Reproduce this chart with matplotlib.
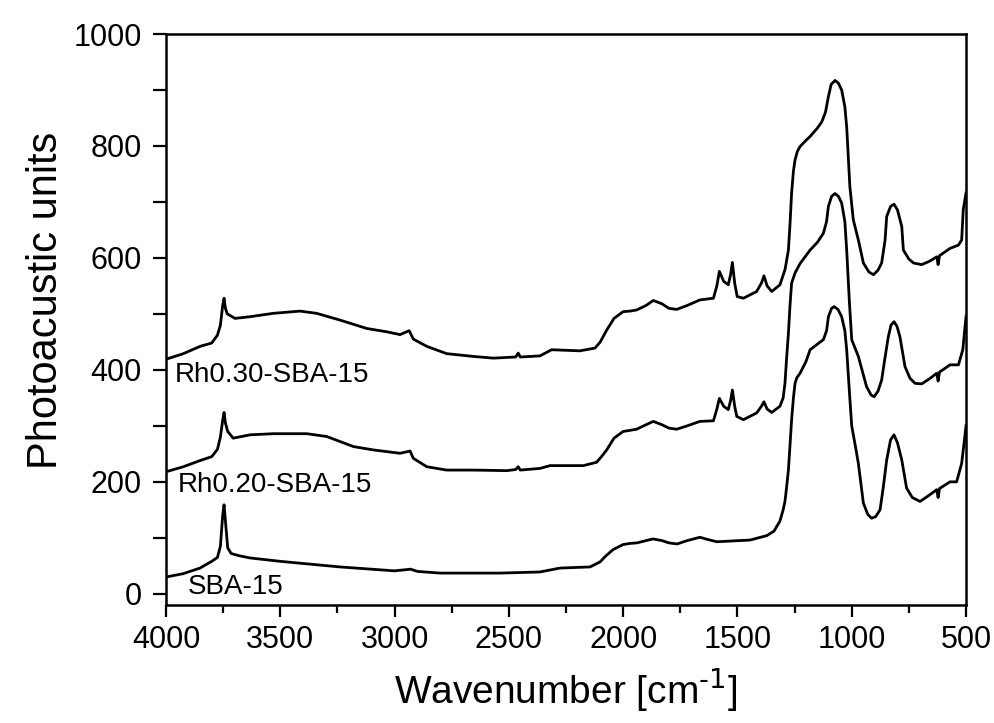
import matplotlib
matplotlib.use("Agg")
import matplotlib.pyplot as plt
from matplotlib.ticker import MultipleLocator

plt.rcParams["font.family"] = ["Liberation Sans", "DejaVu Sans"]
plt.rcParams["mathtext.default"] = "regular"

# (wavenumber, photoacoustic signal), high -> low wavenumber
sba15 = [
    (4000, 30), (3924, 36), (3851, 46), (3800, 58), (3775, 65), (3762, 85),
    (3752, 140), (3746, 159), (3740, 130), (3730, 82), (3715, 72), (3680, 68),
    (3632, 64), (3500, 58), (3239, 48), (3000, 41), (2930, 44), (2900, 40),
    (2801, 37), (2539, 37), (2364, 39), (2276, 46), (2145, 48), (2101, 57),
    (2075, 68), (2044, 79), (2000, 88), (1970, 90), (1939, 91), (1900, 95),
    (1869, 98), (1830, 95), (1800, 91), (1764, 89), (1720, 95), (1664, 101),
    (1630, 97), (1590, 93), (1445, 96), (1371, 104), (1340, 112), (1314, 130),
    (1300, 150), (1292, 165), (1285, 190), (1277, 221), (1270, 265), (1263, 311),
    (1255, 350), (1248, 376), (1240, 386), (1226, 394), (1200, 415), (1182, 436),
    (1150, 446), (1124, 454), (1110, 470), (1102, 495), (1088, 510), (1077, 513),
    (1060, 508), (1044, 495), (1030, 470), (1022, 436), (1010, 360), (1000, 300),
    (981, 257), (971, 233), (949, 162), (930, 142), (913, 135), (895, 138),
    (876, 150), (862, 190), (847, 239), (830, 275), (815, 284), (800, 270),
    (781, 239), (760, 189), (735, 172), (701, 165), (665, 175), (628, 186),
    (622, 172), (616, 188), (570, 200), (541, 200), (519, 233), (505, 281),
    (500, 300),
]

rh020 = [
    (4000, 218), (3924, 227), (3851, 238), (3800, 245), (3775, 258), (3762, 280),
    (3752, 310), (3746, 324), (3740, 305), (3730, 290), (3706, 278), (3632, 284),
    (3531, 286), (3384, 286), (3297, 281), (3180, 263), (3093, 257), (3034, 254),
    (2976, 251), (2932, 255), (2918, 242), (2859, 227), (2772, 221), (2655, 221),
    (2509, 220), (2470, 222), (2459, 227), (2450, 221), (2364, 224), (2320, 229),
    (2174, 229), (2116, 235), (2095, 245), (2072, 257), (2040, 278), (2000, 290),
    (1970, 292), (1941, 294), (1900, 302), (1868, 308), (1830, 302), (1800, 296),
    (1766, 294), (1720, 300), (1664, 308), (1605, 309), (1590, 330), (1579, 349),
    (1560, 335), (1540, 329), (1530, 345), (1522, 364), (1512, 335), (1503, 317),
    (1474, 311), (1416, 323), (1395, 335), (1384, 343), (1370, 330), (1350, 324),
    (1314, 335), (1300, 350), (1292, 376), (1285, 420), (1277, 465), (1270, 515),
    (1263, 555), (1248, 573), (1226, 590), (1182, 614), (1150, 628), (1124, 644),
    (1110, 665), (1102, 692), (1088, 710), (1073, 715), (1058, 710), (1044, 698),
    (1030, 665), (1022, 614), (1010, 520), (1000, 454), (971, 424), (935, 370),
    (915, 355), (902, 352), (885, 362), (869, 382), (855, 420), (840, 459),
    (828, 480), (815, 486), (802, 478), (789, 459), (767, 406), (745, 385),
    (723, 376), (694, 375), (660, 384), (628, 394), (622, 380), (616, 396),
    (570, 409), (533, 409), (514, 436), (500, 495),
]

rh030 = [
    (4000, 419), (3924, 429), (3851, 442), (3800, 448), (3775, 462), (3762, 480),
    (3752, 515), (3746, 528), (3740, 510), (3732, 500), (3698, 492), (3632, 495),
    (3531, 501), (3414, 505), (3341, 501), (3239, 489), (3122, 474), (3034, 468),
    (2976, 463), (2936, 470), (2918, 455), (2859, 442), (2772, 429), (2655, 424),
    (2568, 421), (2470, 423), (2459, 430), (2450, 423), (2364, 425), (2313, 436),
    (2189, 434), (2123, 439), (2100, 450), (2072, 471), (2040, 492), (2000, 504),
    (1970, 505), (1941, 507), (1900, 515), (1868, 524), (1830, 518), (1800, 510),
    (1766, 508), (1720, 515), (1664, 525), (1605, 528), (1590, 550), (1579, 576),
    (1560, 558), (1540, 552), (1530, 570), (1522, 592), (1512, 555), (1501, 531),
    (1474, 528), (1416, 540), (1395, 555), (1384, 568), (1370, 550), (1350, 540),
    (1314, 552), (1292, 579), (1285, 595), (1277, 614), (1270, 660), (1263, 716),
    (1255, 755), (1248, 775), (1238, 790), (1226, 799), (1200, 810), (1182, 817),
    (1150, 832), (1131, 843), (1115, 860), (1102, 888), (1090, 910), (1073, 917),
    (1058, 912), (1044, 900), (1030, 870), (1022, 834), (1008, 727), (993, 668),
    (971, 632), (949, 591), (925, 575), (905, 570), (885, 578), (869, 591),
    (854, 632), (847, 674), (830, 692), (815, 696), (800, 686), (781, 656),
    (774, 614), (750, 598), (730, 591), (694, 588), (660, 594), (628, 602),
    (622, 588), (616, 604), (570, 617), (533, 623), (519, 632), (512, 686),
    (500, 716),
]

labels = ["Rh0.30-SBA-15", "Rh0.20-SBA-15", "SBA-15"]
label_x = [3960, 3948, 3904]
label_y = [391, 195, 12]

fig = plt.figure(figsize=(9.95, 7.23), dpi=100)
ax = fig.add_axes([166 / 995, 118 / 723, 800 / 995, 571 / 723])

for series in [rh030, rh020, sba15]:
    xs, ys = zip(*series)
    ax.plot(xs, ys, color="black", lw=2.0, solid_joinstyle="round")

for text, tx, ty in zip(labels, label_x, label_y):
    ax.text(tx, ty, text, fontsize=20, ha="left", va="center")

ax.set_xlim(4000, 500)
ax.set_ylim(-20, 1000)
ax.xaxis.set_major_locator(MultipleLocator(500))
ax.xaxis.set_minor_locator(MultipleLocator(250))
ax.yaxis.set_major_locator(MultipleLocator(200))
ax.yaxis.set_minor_locator(MultipleLocator(100))

ax.tick_params(axis="both", which="both", direction="out", width=1.6)
ax.tick_params(axis="both", which="major", labelsize=22)
ax.tick_params(axis="x", which="major", length=8.6, pad=6)
ax.tick_params(axis="x", which="minor", length=5.8)
ax.tick_params(axis="y", which="major", length=9.5, pad=8)
ax.tick_params(axis="y", which="minor", length=9.5)

for sp in ax.spines.values():
    sp.set_linewidth(1.8)

ax.set_xlabel("Wavenumber [cm$^{\\text{-1}}$]", fontsize=28, labelpad=8)
ax.set_ylabel("Photoacustic units", fontsize=30)
ax.yaxis.set_label_coords(-0.125, 0.534)

fig.savefig("out.png", dpi=100)
